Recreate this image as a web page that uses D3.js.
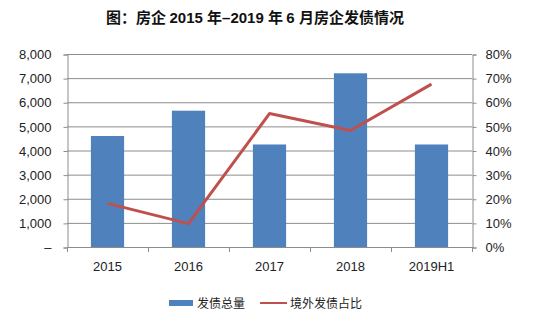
<!DOCTYPE html>
<html><head><meta charset="utf-8">
<script src="https://cdn.jsdelivr.net/npm/d3@7"></script>
<style>body{margin:0;background:#fff}text{font-family:"Liberation Sans",Arial,"Noto Sans CJK SC",sans-serif}</style>
</head><body><svg id="c" width="539" height="324"></svg>
<script>
const categories = ["2015","2016","2017","2018","2019H1"];
const issuance = [4600, 5650, 4250, 7200, 4250];
const overseasShare = [0.181, 0.097, 0.553, 0.483, 0.675];
const leftTicks = [0,1000,2000,3000,4000,5000,6000,7000,8000];
const rightTicks = [0,0.1,0.2,0.3,0.4,0.5,0.6,0.7,0.8];

const svg = d3.select("#c");
const L=67, R=472, T=54, B=247;
const x = d3.scaleBand().domain(categories).range([L,R]).paddingInner(0.59).paddingOuter(0.295);
const xc = d3.scaleBand().domain(categories).range([L,R]);
const y = d3.scaleLinear().domain([0,8000]).range([B,T]);
const y2 = d3.scaleLinear().domain([0,0.8]).range([B,T]);
const grid="#8c8c8c";

const title = svg.append("text").attr("x",255).attr("y",23).attr("text-anchor","middle")
  .style("font-weight","bold").style("font-size","15px").attr("fill","#111");
title.append("tspan").style("font-family",'"Noto Sans CJK SC",sans-serif').text("图：房企 ");
title.append("tspan").text("2015 ");
title.append("tspan").style("font-family",'"Noto Sans CJK SC",sans-serif').text("年");
title.append("tspan").text("–2019 ");
title.append("tspan").style("font-family",'"Noto Sans CJK SC",sans-serif').text("年 ");
title.append("tspan").text("6 ");
title.append("tspan").style("font-family",'"Noto Sans CJK SC",sans-serif').text("月房企发债情况");

// gridlines
svg.append("g").selectAll("line").data(leftTicks.slice(1)).join("line")
  .attr("x1",L).attr("x2",R).attr("y1",d=>y(d)+0.5).attr("y2",d=>y(d)+0.5).attr("stroke",grid).attr("stroke-width",1);

// bars
svg.append("g").selectAll("rect").data(issuance).join("rect")
  .attr("x",(d,i)=>x(categories[i])).attr("width",x.bandwidth())
  .attr("y",d=>y(d)).attr("height",d=>B-y(d)).attr("fill","#4f81bd");

// axes
const la = d3.axisLeft(y).tickValues(leftTicks).tickSize(4).tickFormat(d=>d===0?"–":d3.format(",")(d));
const ga = svg.append("g").attr("transform",`translate(${L+0.5},0.5)`).call(la);
const ra = d3.axisRight(y2).tickValues(rightTicks).tickSize(4).tickFormat(d3.format(".0%"));
const gr = svg.append("g").attr("transform",`translate(${R+0.5},0.5)`).call(ra);
const xa = d3.axisBottom(xc).tickSize(0).tickPadding(14);
const gx = svg.append("g").attr("transform",`translate(0,${B+0.5})`).call(xa);
// category boundary ticks
svg.append("g").selectAll("line").data(d3.range(categories.length+1)).join("line")
  .attr("x1",i=>L+i*xc.step()+0.5).attr("x2",i=>L+i*xc.step()+0.5).attr("y1",B).attr("y2",B+5).attr("stroke",grid);
[ga,gr,gx].forEach(g=>{
  g.select(".domain").attr("stroke",grid);
  g.selectAll(".tick line").attr("stroke",grid);
  g.selectAll("text").style("font-size","13px").attr("fill","#222");
});
ga.selectAll("text").attr("x",-16);
gr.selectAll("text").attr("x",13);
gx.select(".domain").attr("d",`M${L},0H${R}`);

// line
const line = d3.line().x((d,i)=>xc(categories[i])+xc.bandwidth()/2).y(d=>y2(d));
svg.append("path").datum(overseasShare).attr("d",line).attr("fill","none")
  .attr("stroke","#c0504d").attr("stroke-width",3).attr("stroke-linejoin","round");

// legend
const lg = svg.append("g");
lg.append("rect").attr("x",169).attr("y",300).attr("width",24).attr("height",6).attr("fill","#4f81bd");
lg.append("text").attr("x",197).attr("y",308).style("font-size","12px").style("font-family",'"Noto Sans CJK SC",sans-serif').attr("fill","#222").text("发债总量");
lg.append("line").attr("x1",260).attr("x2",287).attr("y1",303).attr("y2",303).attr("stroke","#c0504d").attr("stroke-width",2);
lg.append("text").attr("x",290).attr("y",308).style("font-size","12px").style("font-family",'"Noto Sans CJK SC",sans-serif').attr("fill","#222").text("境外发债占比");
</script></body></html>
